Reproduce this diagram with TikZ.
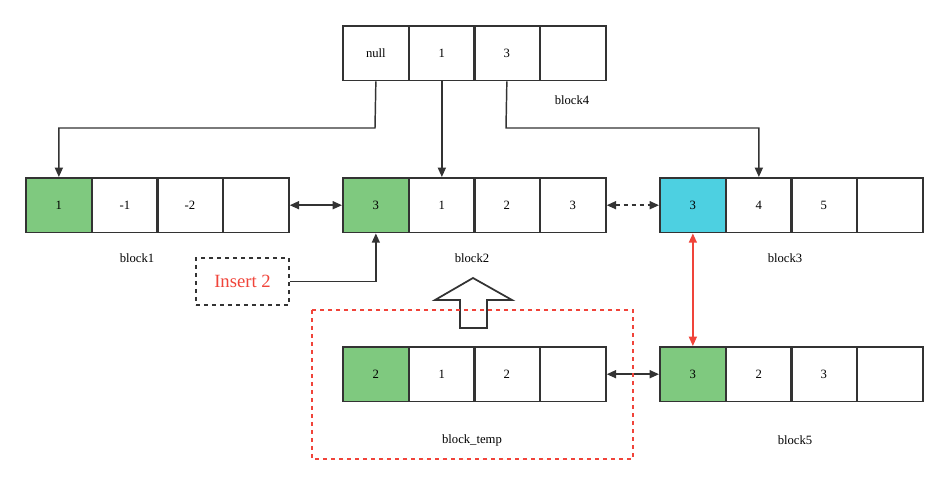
\documentclass[tikz,border=0pt]{standalone}
\usepackage{fontspec}
\setmainfont{Liberation Serif}
\usetikzlibrary{arrows.meta}
\definecolor{cg}{HTML}{7FC97F}
\definecolor{cc}{HTML}{4DD0E1}
\definecolor{ln}{HTML}{333333}
\definecolor{rd}{HTML}{F0443A}
\begin{document}
\begin{tikzpicture}[x=0.75pt,y=-0.75pt,
  cell/.style={draw=ln,line width=1.3pt,minimum width=49.5pt,minimum height=41pt,inner sep=0,font=\fontsize{9.5}{11}\selectfont,anchor=north west},
  lab/.style={font=\fontsize{9.5}{11}\selectfont},
  con/.style={draw=ln,line width=1.1pt,-{Triangle[length=7pt,width=6pt]}},
  dcon/.style={draw=ln,line width=1.1pt,{Triangle[length=7pt,width=6pt]}-{Triangle[length=7pt,width=6pt]}}]
\useasboundingbox (0,0) rectangle (947,484);
% block4
\node[cell] (a0) at (342,25) {null};
\node[cell] (a1) at (408,25) {1};
\node[cell] (a2) at (473,25) {3};
\node[cell] (a3) at (539,25) {};
\node[lab] (l4) at (572,100) {block4};
% block1
\node[cell,fill=cg] (b0) at (25,177) {1};
\node[cell] (b1) at (91,177) {-1};
\node[cell] (b2) at (156,177) {-2};
\node[cell] (b3) at (222,177) {};
\node[lab] (l1) at (137,258) {block1};
% block2
\node[cell,fill=cg] (c0) at (342,177) {3};
\node[cell] (c1) at (408,177) {1};
\node[cell] (c2) at (473,177) {2};
\node[cell] (c3) at (539,177) {3};
\node[lab] (l2) at (472,258) {block2};
% block3
\node[cell,fill=cc] (d0) at (659,177) {3};
\node[cell] (d1) at (725,177) {4};
\node[cell] (d2) at (790,177) {5};
\node[cell] (d3) at (856,177) {};
\node[lab] (l3) at (785,258) {block3};
% block_temp
\node[cell,fill=cg] (e0) at (342,346) {2};
\node[cell] (e1) at (408,346) {1};
\node[cell] (e2) at (473,346) {2};
\node[cell] (e3) at (539,346) {};
\node[lab] (lt) at (472,440) {block\_temp};
% block5
\node[cell,fill=cg] (f0) at (659,346) {3};
\node[cell] (f1) at (725,346) {2};
\node[cell] (f2) at (790,346) {3};
\node[cell] (f3) at (856,346) {};
\node[lab] (l5) at (795,440) {block5};
% top connectors
\draw[con] (a0.south) -- (375,128) -| (b0.north);
\draw[con] (a1.south) -- (c1.north);
\draw[con] (a2.south) -- (506,128) -| (d1.north);
% horizontal
\draw[dcon] (b3.east) -- (c0.west);
\draw[dcon,dashed] (c3.east) -- (d0.west);
\draw[dcon] (e3.east) -- (f0.west);
\draw[line width=1.1pt,draw=rd,{Triangle[length=7pt,width=6pt]}-{Triangle[length=7pt,width=6pt]},fill=rd] (d0.south) -- (f0.north);
% insert
\node[draw=ln,dashed,line width=1.3pt,minimum width=70pt,minimum height=35pt,inner sep=0,text=rd,font=\fontsize{14}{16}\selectfont] (ins) at (242.5,281.5) {Insert 2};
\draw[con] (ins.east) -| (c0.south);
% big hollow arrow
\draw[draw=ln,line width=1.3pt,fill=white] (473,278) -- (512,300) -- (487,300) -- (487,328) -- (460,328) -- (460,300) -- (435,300) -- cycle;
% red dashed box
\draw[rd,dashed,line width=1.3pt] (312,310) rectangle (633,459);
\end{tikzpicture}
\end{document}
